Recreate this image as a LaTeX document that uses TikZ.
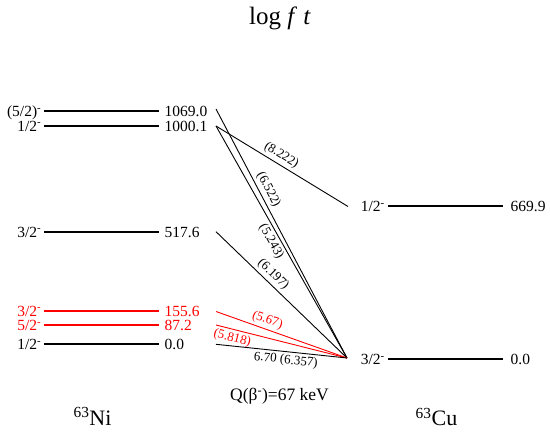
\documentclass[tikz,border=0pt]{standalone}
\usepackage{fontspec}
\setmainfont{Liberation Serif}
\definecolor{redl}{RGB}{255,0,0}
\begin{document}
\begin{tikzpicture}[x=1pt,y=-1pt,
  level/.style={line width=2pt},
  trans/.style={line width=0.9pt},
  lab/.style={font=\fontsize{15.5}{18}\selectfont, inner sep=0pt},
  tl/.style={font=\fontsize{13}{15}\selectfont, sloped, inner sep=2.5pt},
  big/.style={font=\fontsize{22}{26}\selectfont, inner sep=0pt}]
\useasboundingbox (0,0) rectangle (550,441);
% title
\node[font=\fontsize{25}{30}\selectfont, inner sep=0pt, anchor=base] (title) at (280,25) {log \textit{f} \textit{t}};
% Ni levels
\foreach \nm/\y/\sp/\en/\col in {a/111/(5\slash 2)/1069.0/black, b/125.7/1\slash 2/1000.1/black, c/231.7/3\slash 2/517.6/black, d/310.7/3\slash 2/155.6/redl, e/325/5\slash 2/87.2/redl, f/344.3/1\slash 2/0.0/black}{
  \coordinate (ni\nm l) at (44,\y);
  \coordinate (ni\nm r) at (159,\y);
  \draw[level,\col] (ni\nm l) -- (ni\nm r);
  \node[lab,anchor=base east,text=\col] (nis\nm) at (41.5,\y+5.5) {\sp\textsuperscript{-}};
  \node[lab,anchor=base west,text=\col] (nie\nm) at (164.5,\y+5.5) {\en};
}
% Cu levels
\foreach \nm/\y/\sp/\en in {a/206/1\slash 2/669.9, b/359/3\slash 2/0.0}{
  \coordinate (cu\nm l) at (388,\y);
  \coordinate (cu\nm r) at (503,\y);
  \draw[level] (cu\nm l) -- (cu\nm r);
  \node[lab,anchor=base east] (cus\nm) at (385,\y+5.5) {\sp\textsuperscript{-}};
  \node[lab,anchor=base west] (cue\nm) at (510.5,\y+5.5) {\en};
}
% transition points
\coordinate (ta) at (216,109);
\coordinate (tb) at (216,126);
\coordinate (tc) at (216,231.7);
\coordinate (td) at (216,311.5);
\coordinate (te) at (216,325);
\coordinate (tf) at (216,344.3);
\coordinate (gs) at (347,358);
\coordinate (cu1) at (348,206.5);
% transitions
\draw[trans] (ta) -- (gs) node[tl,pos=0.34,above] {(6.522)};
\draw[trans] (tb) -- (gs) node[tl,pos=0.48,below] {(5.243)};
\draw[trans] (tb) -- (cu1) node[tl,pos=0.46,above] {(8.222)};
\draw[trans] (tc) -- (gs) node[tl,pos=0.39,above] {(6.197)};
\draw[trans,redl] (td) -- (gs) node[tl,pos=0.37,above] {(5.67)};
\draw[trans,redl] (te) -- (gs) node[tl,pos=0.14,below] {(5.818)};
\draw[trans] (tf) -- (gs) node[tl,pos=0.54,below] {6.70 (6.357)};
% bottom labels
\node[font=\fontsize{17.5}{21}\selectfont, inner sep=0pt, anchor=base] (q) at (279.5,401) {Q(β\textsuperscript{-})=67 keV};
\node[big,anchor=base] (ni) at (92.5,425) {\textsuperscript{63}Ni};
\node[big,anchor=base] (cu) at (436.5,426) {\textsuperscript{63}Cu};
\end{tikzpicture}
\end{document}
